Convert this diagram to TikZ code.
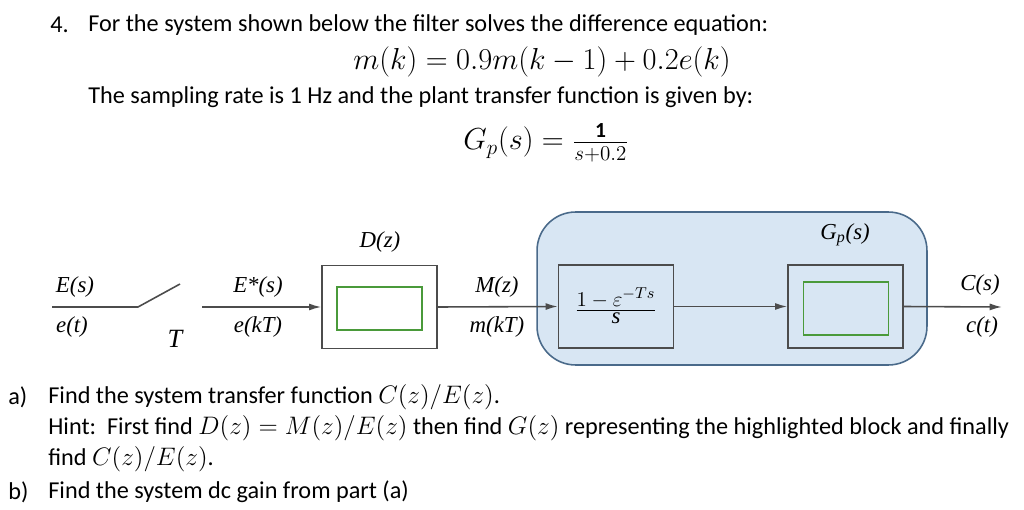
\documentclass[tikz,border=0pt]{standalone}
\usepackage{fontspec}
\setmainfont{Carlito}
\newfontfamily\dgfont{Liberation Serif}
\usetikzlibrary{arrows.meta}
\definecolor{hlfill}{HTML}{D8E6F3}
\definecolor{hldraw}{HTML}{4A6A8A}
\definecolor{ingreen}{HTML}{4A9A3A}
\begin{document}
\begin{tikzpicture}[x=0.02cm,y=-0.02cm,
  txt/.style={anchor=west,inner sep=0,font=\fontsize{13.8}{16}\selectfont},
  dg/.style={inner sep=0,font=\dgfont\fontsize{13}{15}\selectfont\itshape},
  blk/.style={draw=black!70,line width=0.8pt,fill=white,minimum width=2.3cm,minimum height=1.66cm,inner sep=0},
  blk2/.style={draw=black!70,line width=0.8pt,minimum width=2.3cm,minimum height=1.66cm,inner sep=0},
  inr/.style={draw=ingreen,line width=0.6pt,minimum width=1.7cm,minimum height=0.86cm,inner sep=0},
  sig/.style={draw=black!70,line width=0.9pt},
  arr/.style={sig,-{Latex[length=7pt,width=4pt]}}]
\useasboundingbox (0,0) rectangle (1024,510);
\node[txt] (n4) at (50,25) {4.};
\node[txt] (l1) at (88,25) {For the system shown below the filter solves the difference equation:};
\node[inner sep=0,font=\fontsize{17.5}{20}\selectfont] (eq1) at (542,62) {$m(k)=0.9m(k-1)+0.2e(k)$};
\node[txt] (l2) at (88,97) {The sampling rate is 1 Hz and the plant transfer function is given by:};
\node[inner sep=0,font=\fontsize{17.5}{20}\selectfont] (eq2) at (546,143) {$G_p(s)=\frac{\mathbf{1}}{s+0.2}$};
% diagram
\node[draw=hldraw,line width=0.9pt,fill=hlfill,rounded corners=22,minimum width=7.8cm,minimum height=3.06cm,inner sep=0] (hl) at (732,288.5) {};
\node[blk] (D) at (379.5,307) {};
\node[inr] (Di) at (379.5,308.5) {};
\node[blk2] (H) at (616,306.5) {};
\node[blk2,fill=hlfill] (G) at (845.5,306.5) {};
\node[inr,minimum height=1.06cm] (Gi) at (846,308.5) {};
\node[dg] at (616,300) {$\underline{\vphantom{Ts}1-\varepsilon^{-Ts}}$};
\node[dg] at (616,318) {\textit{s}};
\coordinate (s0) at (52,307);
\coordinate (s1) at (138,307);
\coordinate (s2) at (180,284);
\coordinate (s3) at (202,307);
\coordinate (out) at (1002,307);
\draw[sig] (s0) -- (s1) -- (s2);
\draw[arr] (s3) -- (D.west);
\draw[arr] (D.east) -- (H.west);
\draw[arr] (H.east) -- (G.west);
\draw[arr] (G.east) -- (out);
\node[dg] (Es) at (75,287) {E(s)};
\node[dg] (et) at (72,327) {e(t)};
\node[dg,font=\dgfont\fontsize{15}{17}\selectfont\itshape] (T) at (175,339) {T};
\node[dg] (Esx) at (258,287) {E*(s)};
\node[dg] (ekT) at (258,327) {e(kT)};
\node[dg] (Dz) at (380,242) {D(z)};
\node[dg] (Mz) at (497,287) {M(z)};
\node[dg] (mkT) at (497,327) {m(kT)};
\node[dg] (Gps) at (845,235) {G\textsubscript{\textit{p}}(s)};
\node[dg] (Cs) at (980,285) {C(s)};
\node[dg] (ct) at (982,327) {c(t)};
% questions
\node[txt] (a) at (8,397) {a)};
\node[txt] (qa) at (48,397) {Find the system transfer function $C(z)/E(z)$.};
\node[txt] (h1) at (48,428) {Hint:\ \ First find $D(z)=M(z)/E(z)$ then find $G(z)$ representing the highlighted block and finally};
\node[txt] (h2) at (48,459) {find $C(z)/E(z)$.};
\node[txt] (b) at (8,492) {b)};
\node[txt] (qb) at (48,492) {Find the system dc gain from part (a)};
\end{tikzpicture}
\end{document}
